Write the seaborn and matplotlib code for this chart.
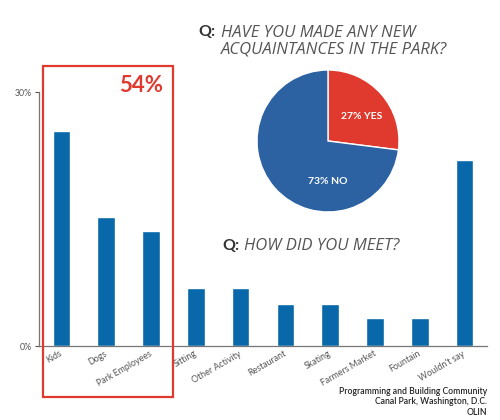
import matplotlib
matplotlib.use("Agg")
import matplotlib.pyplot as plt
import matplotlib.patches as mpatches
import seaborn as sns

sns.set_style("white")
plt.rcParams['font.family'] = ['Lato', 'DejaVu Sans']

# data
categories = ['Kids', 'Dogs', 'Park Employees', 'Sitting', 'Other Activity',
              'Restaurant', 'Skating', 'Farmers Market', 'Fountain', "Wouldn't say"]
shares = [25.4, 15.2, 13.6, 6.8, 6.8, 5.0, 5.0, 3.3, 3.3, 22.0]
pie_labels = ['27% YES', '73% NO']
pie_shares = [27, 73]
y_ticks = [0, 30]
y_ticklabels = ['0%', '30%']
highlight_text = '54%'

BAR_BLUE = '#0868a9'
PIE_BLUE = '#2d62a2'
RED = '#e03a2f'
GREY = '#555555'
DARK = '#333333'
TITLE_FONT = ['Open Sans', 'DejaVu Sans']

W, H = 500, 420
fig = plt.figure(figsize=(5, 4.2), dpi=100)


def fx(px):
    return px / W


def fy(py):
    return 1 - py / H


# bar chart
ax = fig.add_axes([fx(39), fy(346), fx(487) - fx(39), fy(92) - fy(346)])
sns.barplot(x=categories, y=shares, color=BAR_BLUE, width=0.39,
            saturation=1, ax=ax)
ax.set_xlim(-0.5, len(categories) - 0.5)
ax.set_ylim(0, 30)
ax.set_yticks(y_ticks)
ax.set_yticklabels(y_ticklabels, fontsize=6.3, color=GREY)
ax.tick_params(axis='y', length=3, width=0.8, color=GREY, pad=2, left=True)
ax.tick_params(axis='x', length=0, pad=5)
ax.set_xticks(range(len(categories)))
ax.set_xticklabels(categories, rotation=30, ha='right', va='center',
                   rotation_mode='anchor', fontsize=6.4, color=GREY)
for side in ['top', 'right']:
    ax.spines[side].set_visible(False)
for side in ['left', 'bottom']:
    ax.spines[side].set_color('#777777')
    ax.spines[side].set_linewidth(0.9)
ax.set_xlabel('')
ax.set_ylabel('')

# highlight box for the first three bars
box = mpatches.Rectangle((fx(42.7), fy(396.7)), fx(172.7) - fx(42.7),
                         fy(66) - fy(396.7), transform=fig.transFigure,
                         fill=False, edgecolor=RED, linewidth=1.6)
fig.add_artist(box)
fig.text(fx(141), fy(86), highlight_text, color=RED, fontsize=16,
         fontweight='bold', ha='center', va='center')

# pie chart
pax = fig.add_axes([fx(257), fy(212), fx(399) - fx(257), fy(70) - fy(212)])
wedges, texts = pax.pie(pie_shares, colors=[RED, PIE_BLUE], startangle=90,
                        counterclock=False, radius=1)
pax.set_xlim(-1, 1)
pax.set_ylim(-1, 1)
pax.set_aspect('equal')
pax.text(0.47, 0.34, pie_labels[0], color='white', fontsize=7.5,
         fontweight='bold', ha='center', va='center')
pax.text(0.0, -0.57, pie_labels[1], color='white', fontsize=7.5,
         fontweight='bold', ha='center', va='center')

# question headings
fig.text(fx(198), fy(32), 'Q:', color=DARK, fontsize=11.5, fontweight='bold',
         ha='left', va='center')
fig.text(fx(221), fy(41.5), 'HAVE YOU MADE ANY NEW\nACQUAINTANCES IN THE PARK?',
         color='#555555', fontsize=12, fontstyle='italic', fontweight='normal',
         family=TITLE_FONT, ha='left', va='center', linespacing=1.02)
fig.text(fx(222), fy(246), 'Q:', color=DARK, fontsize=11.5, fontweight='bold',
         ha='left', va='center')
fig.text(fx(244), fy(246), 'HOW DID YOU MEET?', color='#555555', fontsize=12,
         fontstyle='italic', fontweight='normal', family=TITLE_FONT,
         ha='left', va='center')

# footer
fig.text(fx(487), fy(402),
         'Programming and Building Community\nCanal Park, Washington, D.C.\nOLIN',
         color='#222222', fontsize=6.2, fontweight='semibold', ha='right',
         va='center', linespacing=1.25)

fig.savefig('out.png', dpi=100)
